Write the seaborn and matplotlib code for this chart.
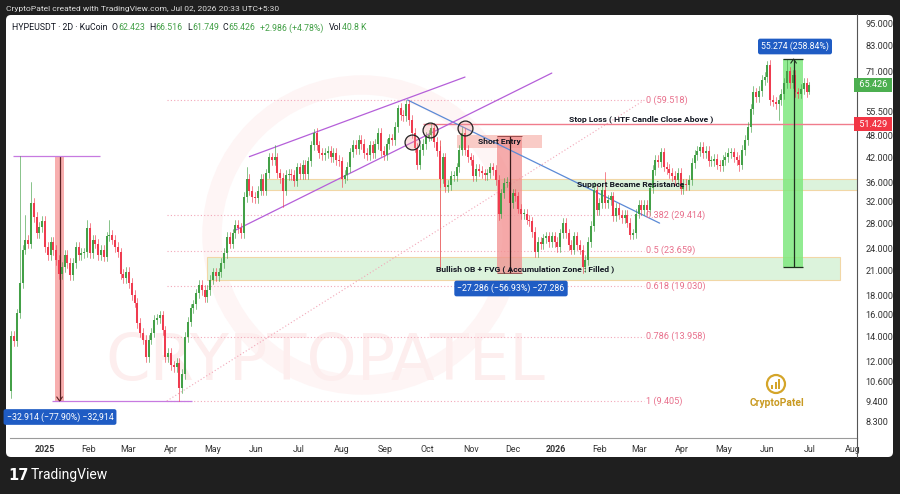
import numpy as np
import pandas as pd
import matplotlib
matplotlib.use("Agg")
import matplotlib.pyplot as plt
import matplotlib.transforms as mtransforms
from matplotlib.patches import Rectangle, FancyBboxPatch, Circle
from matplotlib.ticker import FixedLocator, NullLocator
import seaborn as sns

# ---------------- data ----------------
symbol = "HYPEUSDT · 2D · KuCoin"
first_candle = "2024-12-08"      # 2-day candles
first_open = 10.0
closes = [
    14.0, 13.6, 16.1, 19.4, 23.8, 25.3, 24.7, 31.7, 29.1, 26.4,
    27.3, 28.4, 24.2, 23.0, 24.9, 23.7, 22.3, 20.5, 21.4, 23.0,
    21.9, 20.4, 21.9, 24.2, 23.0, 23.3, 23.4, 27.2, 23.3, 25.3,
    24.7, 23.0, 23.7, 22.8, 25.8, 26.1, 25.3, 24.2, 23.4, 20.5,
    20.0, 20.8, 19.4, 18.0, 17.2, 15.2, 14.3, 13.7, 12.3, 13.7,
    14.3, 15.5, 15.6, 15.9, 14.5, 12.3, 12.6, 11.7, 11.6, 11.9,
    10.2, 11.1, 13.9, 15.3, 16.6, 17.0, 18.2, 19.2, 18.6, 17.8,
    18.6, 19.8, 20.7, 20.2, 20.7, 21.9, 23.3, 25.7, 24.7, 26.3,
    27.7, 27.2, 26.3, 32.9, 36.8, 34.2, 32.9, 32.6, 34.2, 36.8,
    34.2, 38.0, 41.9, 41.3, 41.9, 38.0, 37.0, 34.2, 37.6, 37.9,
    37.6, 36.2, 39.4, 37.9, 40.1, 37.9, 40.9, 45.1, 48.6, 45.1,
    43.0, 42.6, 43.0, 43.5, 41.9, 43.0, 41.3, 40.9, 36.8, 37.6,
    39.5, 43.2, 45.3, 44.0, 46.6, 45.5, 43.0, 42.6, 45.1, 43.0,
    45.5, 48.6, 43.5, 42.6, 45.5, 47.1, 46.6, 50.5, 56.9, 54.4,
    54.0, 58.0, 52.7, 48.6, 44.5, 40.1, 43.9, 45.5, 47.6, 48.1,
    50.1, 46.0, 43.5, 36.8, 41.9, 35.0, 35.4, 37.4, 37.4, 39.4,
    43.9, 48.6, 43.9, 41.9, 41.3, 37.4, 39.1, 38.5, 38.0, 37.6,
    38.0, 39.4, 38.8, 36.5, 29.7, 33.6, 35.9, 36.1, 31.7, 33.6,
    33.0, 30.6, 29.6, 29.6, 28.6, 28.3, 26.5, 23.4, 24.9, 24.6,
    25.5, 25.8, 24.9, 25.8, 24.9, 24.2, 26.3, 28.1, 26.3, 24.5,
    23.8, 25.8, 24.5, 23.8, 21.4, 22.3, 24.9, 27.5, 34.3, 30.4,
    31.7, 34.3, 31.7, 32.3, 33.0, 29.3, 30.7, 29.5, 28.9, 29.5,
    28.1, 26.1, 26.3, 29.7, 31.3, 30.4, 31.3, 30.4, 34.7, 38.8,
    41.3, 40.7, 43.2, 39.6, 39.1, 38.1, 37.4, 36.5, 38.1, 34.5,
    35.6, 35.4, 36.5, 40.5, 42.6, 43.5, 44.7, 43.0, 43.5, 41.0,
    41.0, 41.6, 40.1, 39.7, 41.3, 42.0, 43.0, 43.2, 42.0, 41.3,
    40.1, 43.9, 46.7, 50.5, 56.5, 62.4, 60.8, 63.0, 67.4, 68.6,
    73.9, 59.6, 59.0, 58.0, 59.6, 61.8, 66.2, 71.0, 66.2, 69.6,
    62.4, 62.0, 63.7, 66.2, 62.423, 65.426,
]
high_marks = {3: 42.319, 5: 29.5, 7: 36.0, 27: 28.5, 35: 28.6, 84: 39.5, 94: 45.1,
              108: 50.0, 138: 57.8, 141: 59.518, 161: 50.5, 208: 36.0, 212: 38.4,
              232: 44.5, 246: 46.0, 265: 65.0, 270: 75.5, 277: 76.629, 285: 66.516}
low_marks = {0: 9.6, 60: 9.405, 97: 31.0, 118: 35.0, 145: 39.0, 153: 35.0, 174: 28.5,
             187: 22.8, 204: 20.64, 205: 20.8, 260: 38.5, 274: 52.7, 285: 61.749}
change_label = "+2.986 (+4.78%)"
volume_label = "40.8 K"

price_ticks = [95, 83, 71, 55.5, 48, 42, 36, 32, 28, 24, 21, 18, 16, 14, 12, 10.6, 9.4, 8.3]
month_ticks = ["2025-01-01", "2025-02-01", "2025-03-01", "2025-04-01", "2025-05-01",
               "2025-06-01", "2025-07-01", "2025-08-01", "2025-09-01", "2025-10-01",
               "2025-11-01", "2025-12-01", "2026-01-01", "2026-02-01", "2026-03-01",
               "2026-04-01", "2026-05-01", "2026-06-01", "2026-07-01", "2026-08-01"]
month_labels = ["2025", "Feb", "Mar", "Apr", "May", "Jun", "Jul", "Aug", "Sep", "Oct",
                "Nov", "Dec", "2026", "Feb", "Mar", "Apr", "May", "Jun", "Jul", "Aug"]

fib_levels = ["0", "0.382", "0.5", "0.618", "0.786", "1"]
fib_prices = [59.518, 29.414, 23.659, 19.030, 13.958, 9.405]

ath_high = 42.319
april_low = 9.405
stop_loss = 51.429
short_box = (44.3, 48.0)
short_top, short_bottom = 47.93, 20.644
long_bottom, long_top = 21.355, 76.629
ob_zone = (19.8, 22.8)
sr_zone = (34.3, 36.7)
measure_labels = ["\u221232.914 (\u221277.90%) \u221232,914",
                  "\u221227.286 (\u221256.93%) \u221227.286",
                  "55.274 (258.84%)"]

# ---------------- helpers ----------------
W, H = 900, 494
T0 = pd.Timestamp("2025-01-01")
def D(s):
    return (pd.Timestamp(s) - T0).days

GREEN = "#43a047"
RED = "#ef3b4f"
DARK = "#131722"

sns.set_theme(style="white")
plt.rcParams["font.family"] = ["Roboto", "DejaVu Sans"]

fig = plt.figure(figsize=(9, 4.94), dpi=100)
fig.patch.set_facecolor("#1f1f1f")

# background overlay in pixel coordinates
bg = fig.add_axes([0, 0, 1, 1], zorder=0)
bg.set_xlim(0, W); bg.set_ylim(H, 0); bg.axis("off")
bg.add_patch(FancyBboxPatch((6, 15), 887, 442, boxstyle="round,pad=0,rounding_size=5",
                            fc="white", ec="none"))
# faint watermark
bg.add_patch(Circle((362, 235), 150, fill=False, lw=14, ec="#fef5f5"))
bg.text(325, 362, "CRYPTOPATEL", fontsize=46, color="#fdeeee", ha="center", va="center",
        family="DejaVu Sans")

# ---------------- main axes ----------------
ax = fig.add_axes([10 / W, 1 - 438 / H, 847 / W, 424 / H], zorder=1)
ax.patch.set_alpha(0)
ax.set_yscale("log")
ax.set_xlim(D("2024-12-07"), D("2026-08-04"))
ax.set_ylim(7.494, 101.0)

# candles
dates = pd.date_range(first_candle, periods=len(closes), freq="2D")
days = (dates - T0).days.values
opens = [first_open] + closes[:-1]
wick_rows, body_rows = [], []
for i, (d, o, c) in enumerate(zip(days, opens, closes)):
    direction = "up" if c >= o else "down"
    hi = high_marks.get(i, max(o, c) * 1.03)
    lo = low_marks.get(i, min(o, c) / 1.03)
    wick_rows += [(d, hi, i, direction), (d, lo, i, direction)]
    b0, b1 = min(o, c), max(o, c)
    if b1 / b0 < 1.006:
        b1 = b0 * 1.006
    body_rows += [(d, b0, i, direction), (d, b1, i, direction)]
wick_df = pd.DataFrame(wick_rows, columns=["day", "price", "cid", "dir"])
body_df = pd.DataFrame(body_rows, columns=["day", "price", "cid", "dir"])
pal = {"up": GREEN, "down": RED}
sns.lineplot(data=wick_df, x="day", y="price", units="cid", hue="dir", palette=pal,
             estimator=None, sort=False, lw=0.55, legend=False, ax=ax, zorder=4, alpha=0.8)
sns.lineplot(data=body_df, x="day", y="price", units="cid", hue="dir", palette=pal,
             estimator=None, sort=False, lw=1.45, legend=False, ax=ax, zorder=5,
             solid_capstyle="butt")

# zones
ax.add_patch(Rectangle((D("2025-04-27"), ob_zone[0]), D("2026-07-23") - D("2025-04-27"),
                       ob_zone[1] - ob_zone[0], fc="#dcf3dc", ec="#f1d7a6", lw=0.8, zorder=1))
ax.add_patch(Rectangle((D("2025-06-08"), sr_zone[0]), D("2026-08-04") - D("2025-06-08"),
                       sr_zone[1] - sr_zone[0], fc="#dcf3dc", ec="#f1d7a6", lw=0.8, zorder=1))
ax.add_patch(Rectangle((D("2025-10-22"), short_box[0]), D("2025-12-22") - D("2025-10-22"),
                       short_box[1] - short_box[0], fc="#f9cbc6", ec="none", zorder=1))

# fib retracement
fx0, fx1 = D("2025-03-29"), D("2026-03-05")
for lvl, p in zip(fib_levels, fib_prices):
    ax.hlines(p, fx0, fx1, colors="#f2a7b8", lw=0.8, linestyles=(0, (1, 2)), zorder=2)
    ax.text(fx1 + 1.5, p, f"{lvl} ({p:.3f})", fontsize=6.6, color="#e8708c",
            va="center", ha="left", zorder=6)
ax.plot([fx0, fx1], [fib_prices[-1], fib_prices[0]], color="#f2a7b8", lw=0.8,
        ls=(0, (1, 2)), zorder=2)

# measure 1 (drop from ATH)
ax.add_patch(Rectangle((D("2025-01-08"), april_low), 6.5, ath_high - april_low,
                       fc="#f7a1a1", ec="none", alpha=0.85, zorder=2))
ax.vlines(D("2025-01-11") + 0.4, april_low, ath_high, colors="#5a2020", lw=0.9, zorder=3)
ax.hlines(ath_high, D("2024-12-09"), D("2025-02-09"), colors="#c77ae0", lw=0.9, zorder=3)
ax.hlines(april_low, D("2025-01-06"), D("2025-04-16"), colors="#c77ae0", lw=0.9, zorder=3)

# measure 2 (short)
ax.add_patch(Rectangle((D("2025-11-20"), short_bottom), 17.8, short_top - short_bottom,
                       fc="#f28f8f", ec="none", alpha=0.75, zorder=2))
ax.vlines(D("2025-11-29"), short_bottom, short_top, colors="#3a1a1a", lw=0.9, zorder=6)
ax.hlines([short_top, short_bottom], D("2025-11-20"), D("2025-11-20") + 17.8,
          colors="#8a4040", lw=0.6, zorder=6)

# measure 3 (long)
ax.add_patch(Rectangle((D("2026-06-12"), long_bottom), 14.2, long_top - long_bottom,
                       fc="#7fe87f", ec="none", alpha=0.85, zorder=2))
ax.vlines(D("2026-06-20") - 0.3, long_bottom, long_top, colors="#1f2f1f", lw=0.9, zorder=6)
ax.hlines([long_top, long_bottom], D("2026-06-12"), D("2026-06-12") + 14.2,
          colors="#1f2f1f", lw=0.9, zorder=6)
ax.plot([D("2026-06-20") - 2.3, D("2026-06-20") - 0.3, D("2026-06-20") + 1.7],
        [long_top * 0.975, long_top, long_top * 0.975], color="#1f2f1f", lw=0.8, zorder=6)
ax.plot([D("2025-01-11") - 1.6, D("2025-01-11") + 0.4, D("2025-01-11") + 2.4],
        [april_low * 1.025, april_low, april_low * 1.025], color="#5a2020", lw=0.8, zorder=6)

# stop loss line
ax.hlines(stop_loss, D("2025-09-28"), D("2026-08-04"), colors="#f07c8c", lw=1.0, zorder=3)

# trend lines
ax.plot([D("2025-09-17"), D("2026-03-16")], [59.6, 28.0], color="#5b8ad6", lw=0.9, zorder=3)
ax.plot([D("2025-05-27"), D("2025-10-28")], [42.1, 68.6], color="#b55fd9", lw=0.9, zorder=3)
ax.plot([D("2025-05-16"), D("2025-12-29")], [26.7, 70.3], color="#b55fd9", lw=0.9, zorder=3)
ax.vlines(D("2025-10-10"), 21.0, 46.7, colors="#ec7070", lw=0.7, zorder=3)

# circles on rejection candles
circ_days = [D("2025-09-20"), D("2025-10-03"), D("2025-10-28")]
circ_prices = [46.1, 49.6, 50.2]
ax.scatter(circ_days, circ_prices, s=115, facecolors=(0.95, 0.6, 0.6, 0.3),
           edgecolors="#222222", linewidths=0.9, zorder=7)

# annotation texts
bold = dict(fontsize=6.1, fontweight="bold", color=DARK, zorder=8)
ax.text(D("2026-01-10"), 53.0, "Stop Loss ( HTF Candle Close Above )", ha="left", va="center", **bold)
ax.text(D("2025-11-06"), 46.1, "Short Entry", ha="left", va="center", **bold)
ax.text(D("2026-01-16"), 35.4, "Support Became Resistance", ha="left", va="center", **bold)
ax.text(D("2025-10-07"), 21.05, "Bullish OB + FVG ( Accumulation Zone : Filled )",
        ha="left", va="center", **bold)

# price axis on the right
ax.yaxis.tick_right()
ax.yaxis.set_major_locator(FixedLocator(price_ticks))
ax.yaxis.set_minor_locator(NullLocator())
ax.set_yticklabels([f"{t:.3f}" for t in price_ticks])
ax.tick_params(axis="y", length=0, pad=6, labelsize=6.6, labelcolor="#333333")
ax.set_xticks([D(m) for m in month_ticks])
ax.set_xticklabels(month_labels)
ax.tick_params(axis="x", length=0, pad=5, labelsize=6.4, labelcolor="#333333")
for lab in ax.get_xticklabels():
    if lab.get_text() in ("2025", "2026"):
        lab.set_fontweight("bold")
ax.set_xlabel(""); ax.set_ylabel("")
for s in ("left", "top"):
    ax.spines[s].set_visible(False)
ax.spines["right"].set_color("#555555"); ax.spines["right"].set_linewidth(0.8)
ax.spines["bottom"].set_color("#9a9a9a"); ax.spines["bottom"].set_linewidth(0.8)
ax.grid(False)

blend = mtransforms.blended_transform_factory(ax.transAxes, ax.transData)
ax.text(1.0, closes[-1], f" {closes[-1]:.3f} ", transform=blend, fontsize=6.6, color="white",
        ha="left", va="center", zorder=10, clip_on=False,
        bbox=dict(boxstyle="square,pad=0.3", fc="#4caf50", ec="none"))
ax.text(1.0, stop_loss, f" {stop_loss:.3f} ", transform=blend, fontsize=6.6, color="white",
        ha="left", va="center", zorder=10, clip_on=False,
        bbox=dict(boxstyle="square,pad=0.3", fc="#f23645", ec="none"))

# ---------------- foreground overlay (pixel coords) ----------------
fg = fig.add_axes([0, 0, 1, 1], zorder=5)
fg.set_xlim(0, W); fg.set_ylim(H, 0); fg.axis("off")
fg.plot([857, 857], [438, 457], color="#555555", lw=0.8)

fg.text(6, 9, "CryptoPatel created with TradingView.com, Jul 02, 2026 20:33 UTC+5:30",
        fontsize=6.1, color="#dddddd", va="center", ha="left")

# header line: place pieces one after another
o_, h_, l_, c_ = opens[-1], high_marks[285], low_marks[285], closes[-1]
segs = [(symbol, DARK, 4.5), ("O", DARK, 0.3), (f"{o_:.3f}", GREEN, 4),
        ("H", DARK, 0.3), (f"{h_:.3f}", GREEN, 4), ("L", DARK, 0.3),
        (f"{l_:.3f}", GREEN, 4), ("C", DARK, 0.3), (f"{c_:.3f}", GREEN, 4),
        (change_label, GREEN, 6), ("Vol", DARK, 0.3), (volume_label, GREEN, 0)]
renderer = fig.canvas.get_renderer()
inv = fg.transData.inverted()
xcur = 12
for txt, col, gap in segs:
    t = fg.text(xcur, 28, txt, fontsize=6.3, color=col, va="center", ha="left")
    bb = t.get_window_extent(renderer=renderer)
    x1 = inv.transform((bb.x1, bb.y1))[0]
    xcur = x1 + gap

box = dict(boxstyle="round,pad=0.35,rounding_size=0.25", fc="#1f5cc4", ec="none")
fg.text(60, 417, measure_labels[0], fontsize=6.3, color="white", ha="center", va="center", bbox=box)
fg.text(511, 288.5, measure_labels[1], fontsize=6.3, color="white", ha="center", va="center", bbox=box)
fg.text(795, 46.5, measure_labels[2], fontsize=6.3, color="white", ha="center", va="center", bbox=box)

# CryptoPatel badge (small chart icon in a ring)
fg.add_patch(Circle((776, 384), 9, fill=False, lw=1.6, ec="#d4a52a"))
for bx, bh in zip([772, 775.5, 779], [4, 7, 10]):
    fg.add_patch(Rectangle((bx - 1, 389 - bh), 2, bh, fc="#d4a52a", ec="none"))
fg.text(777, 403, "CryptoPatel", fontsize=7.4, fontweight="bold", color="#c99a22",
        ha="center", va="center")

# TradingView footer
fg.text(8, 475, "17", fontsize=10.5, fontweight="heavy", color="white", ha="left", va="center",
        family="DejaVu Sans")
fg.text(31, 475, "TradingView", fontsize=10, color="white", ha="left", va="center")

fig.savefig("out.png", dpi=100, facecolor=fig.get_facecolor())
